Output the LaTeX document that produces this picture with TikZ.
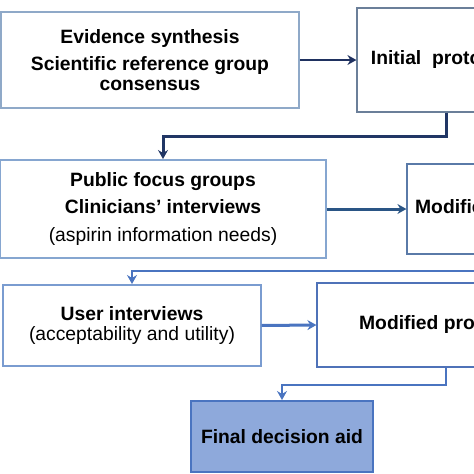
\documentclass[tikz,border=0pt]{standalone}
\usepackage{fontspec}
\setmainfont{Liberation Sans}
\usetikzlibrary{arrows.meta}

\definecolor{edgeA}{HTML}{8FA9C8}
\definecolor{edgeB}{HTML}{6B7F99}
\definecolor{edgeC}{HTML}{86A6D0}
\definecolor{edgeD}{HTML}{5A7AA8}
\definecolor{edgeE}{HTML}{7A9CD0}
\definecolor{edgeF}{HTML}{4F72B8}
\definecolor{navy}{HTML}{1F3160}
\definecolor{steel}{HTML}{2A5585}
\definecolor{mid}{HTML}{4A74C0}
\definecolor{finalfill}{HTML}{8EA9DB}

\tikzset{
  stage/.style={draw, line width=1.2pt, fill=white, align=center, inner sep=0pt,
    font=\fontsize{19.3}{20.5}\selectfont},
  flow/.style={-{Stealth[length=9pt,width=10pt,inset=3pt]}, line width=3pt}
}

\begin{document}
\begin{tikzpicture}[x=1pt,y=-1pt]
\useasboundingbox (0,0) rectangle (474,474);
\clip (0,0) rectangle (474,474);
% row 1
\node[stage, draw=edgeA, minimum width=298pt, minimum height=96pt] (synth) at (150,60)
  {\textbf{Evidence synthesis}\\[6.5pt]\textbf{Scientific reference group}\\\textbf{consensus}};
\node[stage, draw=edgeB, minimum width=178pt, minimum height=104pt] (init) at (446,60)
  {\textbf{Initial\ \ prototype}};
\draw[flow, navy, line width=2.2pt] (synth.east) -- (init.west);
\draw[flow, navy!85!steel] (init.south) -- ++(0,24) -| (163,159);
% row 2
\node[stage, draw=edgeC, minimum width=326pt, minimum height=98pt] (public) at (163,209)
  {\textbf{Public focus groups}\\[7pt]\textbf{Clinicians' interviews}\\[7pt](aspirin information needs)};
\node[stage, draw=edgeD, minimum width=190pt, minimum height=90pt] (modA) at (502,209)
  {\textbf{Modified prototype}};
\draw[flow, steel] (public.east) -- (modA.west);
\draw[flow, mid, line width=2.2pt] (modA.south) -- ++(0,16) -| (132,284);
% row 3
\node[stage, draw=edgeE, minimum width=258pt, minimum height=81pt] (user) at (132,325.5)
  {\textbf{User interviews}\\(acceptability and utility)};
\node[stage, draw=edgeF, minimum width=258pt, minimum height=84pt] (modB) at (446,325)
  {\textbf{Modified prototype}};
\draw[flow, mid] (user.east) -- (modB.west);
\draw[flow, mid, line width=2.2pt] (modB.south) -- ++(0,17) -| (282,400);
% final
\node[stage, draw=mid, fill=finalfill, line width=2pt, minimum width=182pt, minimum height=71pt] (final) at (282,436.5)
  {\textbf{Final decision aid}};
\end{tikzpicture}
\end{document}
